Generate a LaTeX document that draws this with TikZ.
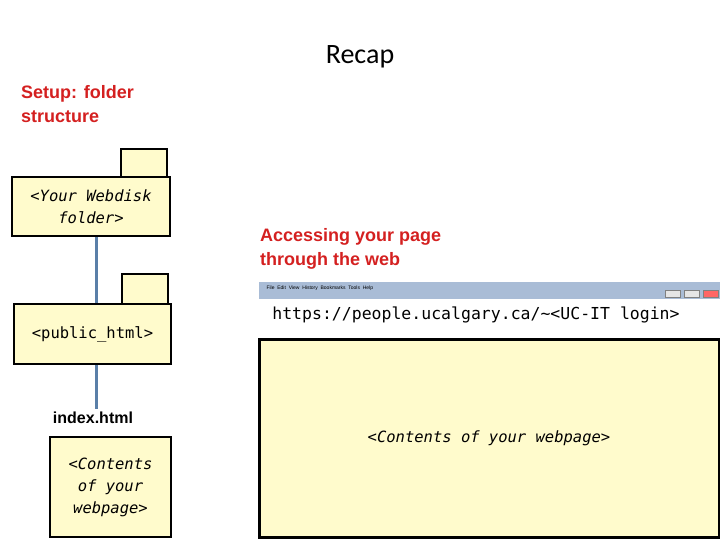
\documentclass[tikz,border=0pt]{standalone}
\usepackage{fontspec}
\setmainfont{Carlito}
\newfontfamily\arialfont{Liberation Sans}
\setmonofont{DejaVu Sans Mono}
\definecolor{paleyellow}{HTML}{FFFBCC}
\definecolor{linkblue}{HTML}{5A7FA8}
\definecolor{barblue}{HTML}{A9BCD6}
\definecolor{setupred}{HTML}{D42020}
\tikzset{
  folder/.style={draw=black,line width=2.5pt,fill=paleyellow},
  tree/.style={draw=linkblue,line width=3pt},
  redlabel/.style={text=setupred,font=\arialfont\bfseries\fontsize{18}{24}\selectfont,align=left,anchor=north west,inner sep=0pt},
  mono/.style={font=\ttfamily\fontsize{15.5}{22}\selectfont,align=center}
}
\begin{document}
\begin{tikzpicture}[x=1pt,y=-1pt]
    \useasboundingbox (0,0) rectangle (720,540);
    \node[font=\fontsize{28}{32}\selectfont] (title) at (360,57) {Recap};
    \node[redlabel] (setup) at (21,85) {Setup: folder\\structure};
    \node[redlabel] (access) at (260,228) {Accessing your page\\through the web};

    % folders
    \draw[folder] (121,149) rectangle (167,177);
    \node[folder,minimum width=158pt,minimum height=59pt,mono] (webdisk) at (91,206.5) {\itshape <Your Webdisk\\\itshape folder>};
    \draw[folder] (122,274) rectangle (168,304);
    \node[folder,minimum width=157pt,minimum height=60pt,mono] (public) at (92.5,334) {<public\_html>};
    \node[font=\arialfont\bfseries\fontsize{16}{20}\selectfont] (index) at (93,418) {index.html};
    \node[folder,minimum width=121pt,minimum height=100pt,mono] (page) at (110.5,487) {\itshape <Contents\\\itshape of your\\\itshape webpage>};
    \draw[tree] (webdisk.south -| 96,0) -- (public.north -| 96,0);
    \draw[tree] (public.south -| 96,0) -- (index.north -| 96,0);

    % browser
    \fill[barblue] (259,282) rectangle (720,299);
    \node[anchor=west,font=\arialfont\fontsize{5}{6}\selectfont] (menu) at (263,288) {File \ Edit \ View \ History \ Bookmarks \ Tools \ Help};
    \foreach \bx/\bc in {665/gray!20,684/gray!20,703/red!60} {
      \draw[gray,fill=\bc] (\bx,290) rectangle ++(15,7);
    }
    \node[font=\ttfamily\fontsize{16.5}{20}\selectfont] (url) at (476,315) {https://people.ucalgary.ca/\textasciitilde<UC-IT login>};
    \node[folder,line width=3pt,minimum width=460pt,minimum height=198pt,mono] (browser) at (489,438) {\itshape <Contents of your webpage>};
\end{tikzpicture}
\end{document}
